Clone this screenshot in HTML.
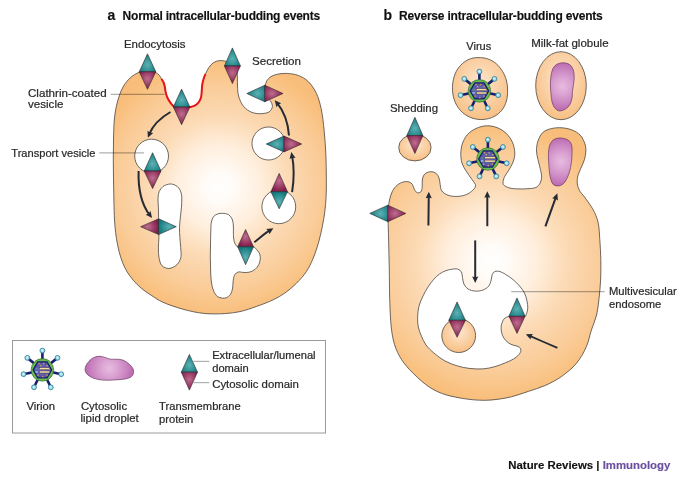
<!DOCTYPE html>
<html><head><meta charset="utf-8"><style>
html,body{margin:0;padding:0;background:#fff;}
svg{display:block;font-family:"Liberation Sans",sans-serif;}
</style></head><body>
<svg width="685" height="482" viewBox="0 0 685 482">

<defs>
 <radialGradient id="gA" cx="219" cy="187.5" r="130" gradientUnits="userSpaceOnUse">
  <stop offset="0" stop-color="#ffffff"/>
  <stop offset="0.1" stop-color="#fffcf9"/>
  <stop offset="0.2" stop-color="#fff6ec"/>
  <stop offset="0.33" stop-color="#ffeedc"/>
  <stop offset="0.52" stop-color="#fcdcb8"/>
  <stop offset="0.6" stop-color="#fbd6ae"/>
  <stop offset="0.8" stop-color="#facb96"/>
  <stop offset="0.96" stop-color="#f9c07e"/>
  <stop offset="1" stop-color="#f8bd7a"/>
 </radialGradient>
 <radialGradient id="gB" cx="492" cy="262" r="140" gradientUnits="userSpaceOnUse">
  <stop offset="0" stop-color="#ffffff"/>
  <stop offset="0.1" stop-color="#fffcf9"/>
  <stop offset="0.2" stop-color="#fff6ec"/>
  <stop offset="0.33" stop-color="#ffeedc"/>
  <stop offset="0.52" stop-color="#fcdcb8"/>
  <stop offset="0.6" stop-color="#fbd6ae"/>
  <stop offset="0.8" stop-color="#facb96"/>
  <stop offset="0.96" stop-color="#f9c07e"/>
  <stop offset="1" stop-color="#f8bd7a"/>
 </radialGradient>
 <radialGradient id="gS" cx="0.5" cy="0.4" r="0.6">
  <stop offset="0" stop-color="#fde6cf"/>
  <stop offset="1" stop-color="#f8c085"/>
 </radialGradient>
 <radialGradient id="gT" cx="0.5" cy="0.6" r="0.6">
  <stop offset="0" stop-color="#5cb1b4"/>
  <stop offset="1" stop-color="#12797d"/>
 </radialGradient>
 <radialGradient id="gM" cx="0.5" cy="0.4" r="0.6">
  <stop offset="0" stop-color="#bc6e8e"/>
  <stop offset="1" stop-color="#85194b"/>
 </radialGradient>
 <radialGradient id="gTh" cx="0.6" cy="0.5" r="0.6">
  <stop offset="0" stop-color="#5cb1b4"/>
  <stop offset="1" stop-color="#12797d"/>
 </radialGradient>
 <radialGradient id="gMh" cx="0.4" cy="0.5" r="0.6">
  <stop offset="0" stop-color="#bc6e8e"/>
  <stop offset="1" stop-color="#85194b"/>
 </radialGradient>
 <radialGradient id="gL1" cx="562.4" cy="86.3" r="27" gradientUnits="userSpaceOnUse">
  <stop offset="0" stop-color="#e7bce0"/>
  <stop offset="0.3" stop-color="#dba4d3"/>
  <stop offset="0.65" stop-color="#c983bf"/>
  <stop offset="1" stop-color="#b65ea9"/>
 </radialGradient>
 <radialGradient id="gL2" cx="561" cy="161.5" r="27" gradientUnits="userSpaceOnUse">
  <stop offset="0" stop-color="#e7bce0"/>
  <stop offset="0.3" stop-color="#dba4d3"/>
  <stop offset="0.65" stop-color="#c983bf"/>
  <stop offset="1" stop-color="#b65ea9"/>
 </radialGradient>
 <radialGradient id="gL3" cx="109.3" cy="368.4" r="27" gradientUnits="userSpaceOnUse">
  <stop offset="0" stop-color="#e7bce0"/>
  <stop offset="0.3" stop-color="#dba4d3"/>
  <stop offset="0.65" stop-color="#c983bf"/>
  <stop offset="1" stop-color="#b65ea9"/>
 </radialGradient>
 <radialGradient id="gBall" cx="0.45" cy="0.45" r="0.6">
  <stop offset="0" stop-color="#dcf6fb"/>
  <stop offset="1" stop-color="#74c6da"/>
 </radialGradient>
 <radialGradient id="gV" cx="0.5" cy="0.5" r="0.6">
  <stop offset="0" stop-color="#7070bc"/>
  <stop offset="1" stop-color="#4a4a9e"/>
 </radialGradient>
</defs>

<text x="107.5" y="19.7" font-size="14" font-weight="700" fill="#111" stroke="#111" stroke-width="0.15" text-anchor="start" letter-spacing="0">a</text>
<text x="122.6" y="19.6" font-size="12" font-weight="700" fill="#111" stroke="#111" stroke-width="0.15" text-anchor="start" letter-spacing="-0.23">Normal intracellular-budding events</text>
<text x="383.6" y="19.7" font-size="14" font-weight="700" fill="#111" stroke="#111" stroke-width="0.15" text-anchor="start" letter-spacing="0">b</text>
<text x="399.0" y="19.6" font-size="12" font-weight="700" fill="#111" stroke="#111" stroke-width="0.15" text-anchor="start" letter-spacing="-0.2">Reverse intracellular-budding events</text>
<path d="M147.50,70.60 C150.17,70.61 153.31,71.33 155.40,72.30 C157.03,73.06 158.26,74.15 159.30,75.30 C160.26,76.37 160.78,77.70 161.50,78.90 C162.21,80.10 163.05,81.21 163.60,82.50 C164.17,83.84 164.46,85.26 164.80,86.80 C165.18,88.53 165.24,90.55 165.70,92.40 C166.17,94.29 166.79,96.27 167.60,98.00 C168.37,99.65 169.36,101.18 170.40,102.60 C171.40,103.97 172.16,105.53 173.70,106.40 C175.64,107.50 178.92,107.69 181.60,107.80 C184.35,107.91 187.69,107.41 190.00,107.00 C191.65,106.71 192.87,106.56 194.20,105.90 C195.68,105.16 197.28,103.97 198.40,102.60 C199.56,101.19 200.45,99.32 201.00,97.50 C201.57,95.63 201.50,93.55 201.70,91.50 C201.91,89.35 201.88,87.00 202.20,84.90 C202.50,82.94 202.96,81.11 203.50,79.30 C204.03,77.54 204.61,75.98 205.40,74.20 C206.32,72.12 207.41,69.56 208.80,67.60 C210.13,65.71 211.67,63.77 213.50,62.60 C215.26,61.48 217.40,60.79 219.50,60.60 C221.72,60.40 224.22,60.90 226.50,61.60 C228.89,62.33 231.75,63.36 233.50,65.00 C235.15,66.55 236.25,68.84 236.90,71.00 C237.56,73.17 237.30,75.59 237.40,78.00 C237.51,80.58 237.33,83.19 237.50,86.00 C237.69,89.15 237.68,92.73 238.60,96.00 C239.58,99.47 241.12,103.44 243.40,106.20 C245.60,108.87 248.75,111.17 251.90,112.40 C255.02,113.62 259.08,113.84 262.20,113.60 C264.86,113.40 267.77,112.93 269.50,111.60 C271.01,110.44 272.23,108.37 272.40,106.60 C272.58,104.78 271.45,102.43 270.40,100.80 C269.41,99.26 267.34,98.45 266.40,97.00 C265.53,95.65 265.05,94.13 264.80,92.50 C264.52,90.67 264.67,88.45 265.00,86.50 C265.33,84.55 265.80,82.45 266.80,80.80 C267.80,79.15 269.31,77.68 271.00,76.60 C272.83,75.43 275.12,74.74 277.50,74.20 C280.22,73.59 283.29,73.26 286.50,73.40 C290.22,73.56 294.83,74.10 298.50,75.50 C302.08,76.87 305.44,78.87 308.30,81.60 C311.46,84.62 314.20,88.90 316.30,93.20 C318.54,97.77 319.84,102.83 321.10,108.40 C322.57,114.91 323.31,122.52 324.10,130.00 C324.94,138.02 325.54,147.13 325.90,155.00 C326.22,162.03 326.24,168.81 326.30,175.00 C326.35,180.36 326.42,185.04 326.30,190.00 C326.18,194.88 326.03,199.67 325.60,204.50 C325.17,209.37 324.50,214.26 323.70,219.10 C322.90,223.96 321.93,228.79 320.80,233.60 C319.66,238.45 318.36,243.56 316.90,248.10 C315.57,252.24 314.22,255.94 312.50,259.80 C310.73,263.78 308.94,267.82 306.40,271.60 C303.68,275.65 300.09,279.62 296.50,283.20 C292.90,286.79 288.82,290.27 284.80,293.10 C281.04,295.74 277.50,297.72 273.20,299.80 C268.24,302.20 262.17,304.42 256.60,306.40 C251.10,308.35 245.49,310.40 240.00,311.60 C234.80,312.74 230.06,313.27 224.50,313.60 C218.09,313.98 210.59,314.13 203.70,313.40 C196.76,312.67 189.84,311.09 183.00,309.20 C176.01,307.27 167.82,304.54 162.20,301.90 C158.05,299.95 155.30,297.91 151.90,295.70 C148.40,293.42 144.67,291.05 141.50,288.40 C138.46,285.86 135.75,283.22 133.20,280.20 C130.53,277.05 127.96,273.55 125.90,269.80 C123.77,265.93 122.09,261.51 120.70,257.30 C119.35,253.21 118.45,249.06 117.60,244.90 C116.75,240.76 116.12,236.57 115.60,232.40 C115.09,228.27 114.77,224.63 114.50,220.00 C114.15,214.13 114.07,206.67 113.90,200.00 C113.73,193.33 113.60,186.67 113.50,180.00 C113.40,173.33 113.30,166.67 113.30,160.00 C113.30,153.33 113.33,146.67 113.50,140.00 C113.67,133.33 113.74,126.00 114.30,120.00 C114.76,115.05 115.37,110.84 116.30,106.50 C117.19,102.35 118.37,98.11 119.70,94.50 C120.85,91.37 121.90,88.72 123.60,86.00 C125.43,83.07 127.85,79.90 130.50,77.60 C133.07,75.37 136.23,73.47 139.20,72.30 C141.91,71.24 144.77,70.59 147.50,70.60 Z" fill="url(#gA)" stroke="#4a4540" stroke-width="0.8"/>
<path d="M161.50,78.90 C162.21,80.10 163.05,81.21 163.60,82.50 C164.17,83.84 164.46,85.26 164.80,86.80 C165.18,88.53 165.24,90.55 165.70,92.40 C166.17,94.29 166.79,96.27 167.60,98.00 C168.37,99.65 169.36,101.18 170.40,102.60 C171.40,103.97 172.16,105.53 173.70,106.40 C175.64,107.50 178.92,107.69 181.60,107.80 C184.35,107.91 187.69,107.41 190.00,107.00 C191.65,106.71 192.87,106.56 194.20,105.90 C195.68,105.16 197.28,103.97 198.40,102.60 C199.56,101.19 200.45,99.32 201.00,97.50 C201.57,95.63 201.50,93.55 201.70,91.50 C201.91,89.35 201.88,87.00 202.20,84.90 C202.50,82.94 202.96,81.11 203.50,79.30 C204.03,77.54 204.61,75.98 205.40,74.20 " fill="none" stroke="#e8141a" stroke-width="2"/>
<circle cx="151.6" cy="156.1" r="16.9" fill="#fff" stroke="#4a4540" stroke-width="0.8"/>
<circle cx="268.5" cy="143.5" r="16.5" fill="#fff" stroke="#4a4540" stroke-width="0.8"/>
<circle cx="278.8" cy="206.8" r="16.9" fill="#fff" stroke="#4a4540" stroke-width="0.8"/>
<path d="M169.90,184.00 C171.76,183.88 173.67,184.45 175.20,185.20 C176.64,185.90 177.91,186.95 178.90,188.20 C179.94,189.52 180.71,191.26 181.20,193.00 C181.72,194.85 181.74,196.80 181.80,199.00 C181.87,201.67 181.64,204.86 181.40,207.90 C181.15,211.12 180.62,214.49 180.30,217.80 C179.98,221.12 179.57,224.47 179.50,227.80 C179.43,231.11 179.70,234.39 179.90,237.70 C180.10,241.03 180.55,244.37 180.70,247.70 C180.85,251.01 181.53,254.67 180.80,257.60 C180.15,260.23 178.88,262.80 177.00,264.60 C175.00,266.51 171.52,268.43 168.90,268.50 C166.50,268.57 163.54,267.32 161.90,265.60 C160.16,263.78 159.59,260.45 159.00,257.60 C158.36,254.52 158.42,251.01 158.40,247.70 C158.38,244.38 158.85,241.11 158.90,237.70 C158.96,234.12 158.75,230.17 158.70,226.70 C158.65,223.58 158.65,220.85 158.60,217.80 C158.55,214.59 158.50,211.20 158.40,207.90 C158.30,204.60 157.79,200.94 158.00,198.00 C158.17,195.60 158.34,193.44 159.20,191.50 C160.03,189.61 161.32,187.74 163.00,186.50 C164.82,185.16 167.73,184.14 169.90,184.00 Z" fill="#fff" stroke="#4a4540" stroke-width="0.8"/>
<path d="M222.60,213.30 C224.49,213.39 226.90,213.71 228.50,214.70 C230.04,215.65 231.28,217.27 232.10,219.00 C233.02,220.95 233.17,223.54 233.40,226.00 C233.65,228.69 233.25,231.81 233.40,234.50 C233.54,236.95 233.47,239.40 234.20,241.50 C234.89,243.48 235.81,245.85 237.50,246.80 C239.43,247.89 242.93,246.90 245.60,246.90 C248.20,246.90 251.27,246.06 253.30,246.80 C254.96,247.41 256.11,248.93 257.20,250.20 C258.26,251.43 259.29,252.84 259.80,254.30 C260.30,255.71 260.41,257.22 260.30,258.80 C260.17,260.62 259.67,262.84 258.80,264.60 C257.92,266.38 256.57,268.14 255.00,269.40 C253.39,270.69 251.22,271.70 249.20,272.20 C247.22,272.69 244.93,272.45 243.00,272.40 C241.30,272.36 239.60,271.59 238.20,272.00 C236.88,272.39 235.62,273.38 234.80,274.60 C233.82,276.06 233.57,278.40 233.20,280.50 C232.79,282.83 233.07,285.64 232.60,288.00 C232.16,290.19 231.70,292.56 230.60,294.20 C229.61,295.67 228.03,296.97 226.60,297.60 C225.34,298.15 223.99,298.22 222.60,298.10 C221.01,297.97 219.03,297.62 217.60,296.60 C215.96,295.42 214.61,293.20 213.60,291.00 C212.43,288.45 211.90,285.24 211.40,282.00 C210.83,278.31 210.78,274.08 210.60,270.00 C210.41,265.76 210.31,261.25 210.30,257.00 C210.29,252.92 210.42,249.08 210.50,245.00 C210.58,240.75 210.63,236.05 210.80,232.00 C210.95,228.45 210.77,224.80 211.40,222.00 C211.88,219.85 212.46,217.86 213.60,216.50 C214.61,215.29 216.13,214.53 217.60,214.00 C219.12,213.45 220.87,213.22 222.60,213.30 Z" fill="#fff" stroke="#4a4540" stroke-width="0.8"/>
<path d="M170.50,112.00 C161.11,117.36 152.93,125.12 149.08,134.43" fill="none" stroke="#262b33" stroke-width="2.0"/><path d="M147.90,137.80 L147.49,130.63 L150.03,132.49 L153.15,132.90 Z" fill="#262b33"/>
<path d="M138.60,171.00 C138.05,188.49 141.39,204.28 149.80,215.26" fill="none" stroke="#262b33" stroke-width="2.0"/><path d="M152.10,218.00 L145.70,214.75 L148.58,213.49 L150.51,211.00 Z" fill="#262b33"/>
<path d="M254.30,242.30 C259.18,238.62 264.28,233.69 270.29,229.96" fill="none" stroke="#262b33" stroke-width="2.0"/><path d="M273.40,228.20 L269.43,234.18 L268.51,231.17 L266.26,228.97 Z" fill="#262b33"/>
<path d="M292.10,192.20 C293.83,181.09 294.40,167.65 292.07,155.59" fill="none" stroke="#262b33" stroke-width="2.0"/><path d="M291.30,152.10 L295.56,157.88 L292.42,157.71 L289.58,159.07 Z" fill="#262b33"/>
<path d="M289.00,135.50 C288.09,123.21 284.69,112.16 277.07,102.88" fill="none" stroke="#262b33" stroke-width="2.0"/><path d="M274.70,100.20 L281.20,103.24 L278.36,104.60 L276.51,107.15 Z" fill="#262b33"/>
<path d="M139.2,71.8 L147.5,53.8 L155.8,71.8 Z" fill="url(#gT)" stroke="#2a2a2a" stroke-width="0.6" stroke-linejoin="round"/><path d="M139.2,71.8 L147.5,89.3 L155.8,71.8 Z" fill="url(#gM)" stroke="#2a2a2a" stroke-width="0.6" stroke-linejoin="round"/>
<path d="M173.3,107.0 L181.6,89.1 L189.9,107.0 Z" fill="url(#gT)" stroke="#2a2a2a" stroke-width="0.6" stroke-linejoin="round"/><path d="M173.3,107.0 L181.6,124.7 L189.9,107.0 Z" fill="url(#gM)" stroke="#2a2a2a" stroke-width="0.6" stroke-linejoin="round"/>
<path d="M224.4,65.9 L232.4,47.9 L240.4,65.9 Z" fill="url(#gT)" stroke="#2a2a2a" stroke-width="0.6" stroke-linejoin="round"/><path d="M224.4,65.9 L232.4,83.6 L240.4,65.9 Z" fill="url(#gM)" stroke="#2a2a2a" stroke-width="0.6" stroke-linejoin="round"/>
<path d="M264.8,85.2 L246.8,93.5 L264.8,101.8 Z" fill="url(#gTh)" stroke="#2a2a2a" stroke-width="0.6" stroke-linejoin="round"/><path d="M264.8,85.2 L283.0,93.5 L264.8,101.8 Z" fill="url(#gMh)" stroke="#2a2a2a" stroke-width="0.6" stroke-linejoin="round"/>
<path d="M284.0,136.1 L266.2,144.0 L284.0,151.9 Z" fill="url(#gTh)" stroke="#2a2a2a" stroke-width="0.6" stroke-linejoin="round"/><path d="M284.0,136.1 L301.7,144.0 L284.0,151.9 Z" fill="url(#gMh)" stroke="#2a2a2a" stroke-width="0.6" stroke-linejoin="round"/>
<path d="M270.9,191.7 L279.2,173.4 L287.5,191.7 Z" fill="url(#gM)" stroke="#2a2a2a" stroke-width="0.6" stroke-linejoin="round"/><path d="M270.9,191.7 L279.2,208.8 L287.5,191.7 Z" fill="url(#gT)" stroke="#2a2a2a" stroke-width="0.6" stroke-linejoin="round"/>
<path d="M144.2,171.0 L152.6,152.7 L161.0,171.0 Z" fill="url(#gT)" stroke="#2a2a2a" stroke-width="0.6" stroke-linejoin="round"/><path d="M144.2,171.0 L152.6,188.6 L161.0,171.0 Z" fill="url(#gM)" stroke="#2a2a2a" stroke-width="0.6" stroke-linejoin="round"/>
<path d="M158.6,218.8 L140.6,226.7 L158.6,234.6 Z" fill="url(#gMh)" stroke="#2a2a2a" stroke-width="0.6" stroke-linejoin="round"/><path d="M158.6,218.8 L176.3,226.7 L158.6,234.6 Z" fill="url(#gTh)" stroke="#2a2a2a" stroke-width="0.6" stroke-linejoin="round"/>
<path d="M237.7,246.8 L245.6,229.5 L253.5,246.8 Z" fill="url(#gM)" stroke="#2a2a2a" stroke-width="0.6" stroke-linejoin="round"/><path d="M237.7,246.8 L245.6,264.7 L253.5,246.8 Z" fill="url(#gT)" stroke="#2a2a2a" stroke-width="0.6" stroke-linejoin="round"/>
<text x="123.9" y="47.8" font-size="11.45" font-weight="400" fill="#2a2a2a" stroke="#2a2a2a" stroke-width="0.22" text-anchor="start" letter-spacing="0">Endocytosis</text>
<text x="252.0" y="64.9" font-size="11.6" font-weight="400" fill="#2a2a2a" stroke="#2a2a2a" stroke-width="0.22" text-anchor="start" letter-spacing="0">Secretion</text>
<text x="28.0" y="96.8" font-size="11.6" font-weight="400" fill="#2a2a2a" stroke="#2a2a2a" stroke-width="0.22" text-anchor="start" letter-spacing="0">Clathrin-coated</text>
<text x="28.0" y="108.4" font-size="11.6" font-weight="400" fill="#2a2a2a" stroke="#2a2a2a" stroke-width="0.22" text-anchor="start" letter-spacing="0">vesicle</text>
<line x1="110.8" y1="94.3" x2="164.5" y2="94.3" stroke="#b0b0b0" stroke-width="1.2" style="mix-blend-mode:multiply"/>
<text x="11.3" y="156.5" font-size="11.1" font-weight="400" fill="#2a2a2a" stroke="#2a2a2a" stroke-width="0.22" text-anchor="start" letter-spacing="0">Transport vesicle</text>
<line x1="99.3" y1="152.8" x2="143.9" y2="152.8" stroke="#b0b0b0" stroke-width="1.2" style="mix-blend-mode:multiply"/>
<path d="M388.20,213.00 C388.38,208.19 388.54,204.75 389.30,201.00 C390.00,197.55 390.92,194.07 392.40,191.30 C393.71,188.84 395.43,186.59 397.40,185.00 C399.24,183.52 401.62,182.37 403.70,181.90 C405.55,181.49 407.69,181.46 409.20,182.00 C410.50,182.46 411.57,183.40 412.40,184.50 C413.33,185.73 413.46,187.80 414.30,189.20 C415.11,190.55 416.13,192.44 417.30,192.80 C418.33,193.12 419.99,192.59 420.80,191.80 C421.72,190.91 421.93,189.08 422.20,187.40 C422.54,185.27 421.90,182.24 422.30,180.00 C422.65,178.03 423.10,175.95 424.20,174.60 C425.23,173.34 427.00,172.44 428.50,172.00 C429.91,171.59 431.53,171.59 432.90,171.90 C434.23,172.21 435.60,172.85 436.60,173.80 C437.68,174.83 438.41,176.38 439.00,178.00 C439.69,179.90 439.81,182.52 440.20,184.60 C440.55,186.46 440.43,188.39 441.20,189.90 C441.95,191.37 443.16,192.61 444.70,193.60 C446.62,194.84 449.41,195.81 452.20,196.20 C455.50,196.66 459.97,196.49 463.30,195.60 C466.31,194.80 469.29,193.28 471.40,191.50 C473.26,189.93 475.48,187.79 475.60,185.80 C475.72,183.79 473.38,181.67 472.00,179.50 C470.43,177.03 468.25,174.51 466.60,171.80 C464.91,169.02 462.97,166.10 462.00,163.00 C461.04,159.90 460.71,156.49 460.80,153.20 C460.89,149.83 461.45,146.15 462.60,143.00 C463.72,139.93 465.32,136.89 467.50,134.50 C469.75,132.03 472.87,129.95 476.00,128.50 C479.19,127.02 482.98,125.94 486.50,125.80 C489.98,125.66 493.75,126.36 497.00,127.60 C500.25,128.83 503.45,130.80 506.00,133.20 C508.60,135.65 510.93,138.89 512.40,142.20 C513.88,145.55 514.77,149.71 514.80,153.20 C514.83,156.35 514.00,159.39 513.00,162.20 C512.04,164.91 510.46,167.20 509.00,169.80 C507.41,172.62 504.65,175.77 503.80,178.50 C503.14,180.60 502.59,182.96 503.40,184.50 C504.24,186.10 506.82,187.06 509.00,187.80 C511.57,188.67 514.92,188.74 518.00,188.90 C521.24,189.06 524.86,188.98 528.00,188.70 C530.82,188.44 533.90,188.51 536.00,187.40 C537.82,186.44 539.27,184.71 540.20,183.00 C541.12,181.31 541.52,179.34 541.60,177.20 C541.70,174.58 540.80,171.31 540.20,168.40 C539.60,165.48 538.62,162.61 538.00,159.70 C537.39,156.81 536.54,154.01 536.50,151.00 C536.46,147.76 536.89,144.04 538.00,140.90 C539.10,137.78 540.74,134.27 543.10,132.20 C545.38,130.19 548.73,129.24 551.80,128.50 C554.98,127.74 558.54,127.56 561.90,127.80 C565.31,128.04 569.01,128.73 572.10,130.00 C575.05,131.21 577.98,132.84 580.10,135.10 C582.27,137.41 583.95,140.95 584.90,143.80 C585.71,146.24 585.94,148.49 585.90,151.00 C585.85,153.77 585.23,156.85 584.40,159.70 C583.55,162.65 581.93,165.62 580.80,168.40 C579.77,170.94 578.50,173.22 577.90,175.70 C577.32,178.09 576.97,180.60 577.20,183.00 C577.43,185.43 578.15,187.93 579.30,190.20 C580.52,192.62 582.60,194.36 584.50,197.00 C587.03,200.51 590.71,205.22 593.00,209.50 C595.15,213.53 596.87,217.30 598.00,221.90 C599.31,227.22 599.34,233.61 599.80,239.70 C600.29,246.09 600.66,252.76 600.80,259.40 C600.94,266.19 600.92,273.31 600.60,280.00 C600.30,286.39 599.70,292.69 599.00,298.70 C598.35,304.33 597.89,309.74 596.60,315.00 C595.34,320.17 593.07,324.86 591.40,330.00 C589.66,335.38 588.78,341.21 586.40,346.60 C583.89,352.29 580.60,358.25 576.50,363.20 C572.33,368.24 566.85,372.73 561.50,376.50 C556.30,380.16 550.54,383.09 544.90,385.60 C539.47,388.02 533.87,389.54 528.30,391.40 C522.70,393.27 516.85,395.44 511.40,396.80 C506.45,398.03 501.59,398.81 497.00,399.40 C492.86,399.93 489.05,400.24 485.10,400.30 C481.19,400.36 477.29,400.13 473.40,399.80 C469.49,399.47 465.59,398.95 461.70,398.30 C457.79,397.65 453.48,396.77 450.00,395.90 C447.15,395.18 444.88,394.56 442.30,393.60 C439.55,392.58 436.71,391.37 434.00,389.90 C431.17,388.36 428.40,386.52 425.70,384.50 C422.86,382.38 420.12,379.92 417.40,377.40 C414.58,374.79 411.51,371.73 409.10,369.10 C407.08,366.90 405.41,364.96 403.80,362.80 C402.25,360.72 400.89,358.71 399.60,356.40 C398.21,353.90 396.85,351.06 395.80,348.30 C394.76,345.59 394.01,343.05 393.30,340.00 C392.46,336.39 391.80,332.30 391.30,328.00 C390.72,323.06 390.48,317.42 390.20,312.00 C389.91,306.42 389.75,301.21 389.60,295.00 C389.42,287.47 389.45,278.71 389.30,270.00 C389.13,260.46 388.79,249.74 388.60,240.00 C388.42,230.76 387.92,220.19 388.20,213.00 Z" fill="url(#gB)" stroke="#4a4540" stroke-width="0.8"/>
<path d="M445.80,270.70 C447.70,269.98 449.55,269.57 451.50,269.30 C453.51,269.02 455.99,268.54 457.70,269.10 C459.16,269.58 460.50,270.62 461.30,271.90 C462.20,273.33 462.08,275.56 462.50,277.50 C462.95,279.59 462.97,282.07 463.90,284.00 C464.82,285.90 466.19,287.82 468.00,289.00 C470.00,290.30 473.07,290.95 475.60,291.10 C478.07,291.25 480.78,290.86 483.00,290.00 C485.13,289.18 487.33,287.88 488.70,286.20 C490.05,284.54 490.59,282.05 491.20,280.00 C491.76,278.09 491.55,275.79 492.30,274.30 C492.91,273.09 493.75,271.99 494.90,271.50 C496.23,270.94 498.32,271.19 500.00,271.60 C501.83,272.05 503.49,273.17 505.40,274.30 C507.76,275.69 510.63,277.53 513.00,279.50 C515.40,281.49 517.74,283.87 519.70,286.20 C521.54,288.38 523.30,290.57 524.50,293.00 C525.68,295.38 526.35,298.06 526.90,300.60 C527.43,303.06 527.91,305.72 527.80,308.00 C527.71,309.98 527.18,311.98 526.60,313.50 C526.14,314.69 525.94,315.87 524.90,316.50 C523.32,317.46 519.57,316.80 516.90,316.80 C514.23,316.80 511.14,316.07 508.90,316.50 C507.14,316.84 505.57,317.40 504.40,318.50 C503.15,319.67 502.35,321.76 501.80,323.50 C501.27,325.20 501.04,326.96 501.10,328.80 C501.17,330.84 501.61,333.24 502.40,335.20 C503.17,337.10 504.30,338.89 505.70,340.40 C507.15,341.97 509.15,343.48 511.00,344.40 C512.67,345.23 514.68,345.36 516.20,345.90 C517.44,346.34 518.71,346.54 519.50,347.30 C520.26,348.03 520.89,349.21 520.90,350.30 C520.91,351.58 520.01,353.19 519.00,354.50 C517.75,356.13 515.60,357.67 513.50,359.00 C511.14,360.49 508.30,361.59 505.40,362.80 C502.18,364.14 498.55,365.60 495.00,366.60 C491.42,367.61 487.91,368.46 484.00,368.80 C479.63,369.19 474.49,369.00 470.00,368.50 C465.75,368.03 461.78,367.21 457.70,366.00 C453.45,364.74 448.96,363.16 445.00,361.00 C441.03,358.83 437.18,355.81 433.90,353.00 C430.92,350.45 428.10,347.89 426.00,345.00 C424.04,342.30 422.78,339.30 421.50,336.30 C420.21,333.30 418.95,330.18 418.30,327.00 C417.65,323.84 417.51,320.65 417.60,317.30 C417.69,313.67 418.07,309.61 419.00,306.00 C419.92,302.45 421.56,299.03 423.10,295.80 C424.57,292.71 426.19,289.80 428.00,287.00 C429.79,284.23 431.85,281.36 433.90,279.10 C435.70,277.12 437.48,275.41 439.50,274.00 C441.46,272.63 443.70,271.49 445.80,270.70 Z" fill="#fff" stroke="#4a4540" stroke-width="0.8"/>
<circle cx="458.7" cy="335.6" r="16.9" fill="url(#gS)" stroke="#4a4540" stroke-width="0.8"/>
<ellipse cx="414.9" cy="147.6" rx="16.2" ry="13.3" fill="url(#gS)" stroke="#4a4540" stroke-width="0.8"/>
<path d="M478.00,57.60 C481.05,57.53 484.51,57.82 487.50,58.80 C490.51,59.78 493.51,61.43 496.00,63.50 C498.57,65.63 500.83,68.58 502.60,71.50 C504.36,74.41 505.77,77.73 506.60,81.00 C507.42,84.23 507.63,87.67 507.60,91.00 C507.57,94.34 507.34,97.83 506.40,101.00 C505.47,104.16 504.04,107.42 502.00,110.00 C499.93,112.63 497.07,115.02 494.00,116.60 C490.78,118.25 486.69,119.27 483.00,119.50 C479.36,119.72 475.42,119.17 472.00,118.00 C468.59,116.83 465.18,114.85 462.50,112.50 C459.86,110.18 457.61,107.14 456.00,104.00 C454.37,100.82 453.32,97.12 452.80,93.50 C452.26,89.79 452.32,85.70 452.90,82.00 C453.47,78.38 454.55,74.63 456.20,71.50 C457.79,68.49 460.11,65.63 462.50,63.50 C464.69,61.55 467.19,59.98 469.80,59.00 C472.37,58.03 475.16,57.66 478.00,57.60 Z" fill="url(#gS)" stroke="#4a4540" stroke-width="0.8"/>
<ellipse cx="561" cy="85.7" rx="25.3" ry="34" fill="url(#gS)" stroke="#4a4540" stroke-width="0.8"/>
<path d="M563.00,62.80 C565.22,62.80 567.97,63.36 569.70,64.60 C571.37,65.80 572.54,67.89 573.30,70.00 C574.17,72.40 574.22,75.70 574.20,78.40 C574.18,80.92 573.62,83.39 573.30,85.70 C573.01,87.80 572.60,89.70 572.40,91.70 C572.20,93.70 572.49,95.64 572.10,97.70 C571.66,100.02 570.93,102.94 569.70,104.90 C568.61,106.65 567.09,108.10 565.40,109.10 C563.67,110.12 561.18,111.10 559.40,110.90 C557.83,110.72 556.35,109.71 555.20,108.50 C553.85,107.07 552.90,104.73 552.20,102.50 C551.42,99.99 551.30,97.00 551.00,94.10 C550.68,91.01 550.39,87.60 550.40,84.50 C550.41,81.58 550.57,78.70 551.00,76.00 C551.40,73.48 551.78,70.78 552.80,68.80 C553.68,67.09 554.83,65.59 556.40,64.60 C558.14,63.50 560.79,62.80 563.00,62.80 Z" fill="url(#gL1)" stroke="#6a3a62" stroke-width="0.7"/>
<path d="M559.00,138.00 C560.79,137.83 562.78,138.10 564.50,138.60 C566.17,139.08 568.01,139.79 569.20,140.90 C570.34,141.96 571.11,143.44 571.60,145.00 C572.16,146.76 572.05,149.00 572.10,151.00 C572.15,153.00 572.02,155.04 571.90,157.00 C571.78,158.90 571.72,160.47 571.40,162.60 C570.96,165.51 570.37,169.47 569.20,172.80 C567.98,176.28 566.19,180.80 564.10,183.00 C562.60,184.58 560.81,185.66 559.00,185.90 C557.17,186.14 554.63,185.65 553.20,184.40 C551.58,182.97 551.00,179.94 550.30,177.20 C549.43,173.82 549.19,169.62 548.90,165.50 C548.58,160.93 548.18,154.97 548.60,151.00 C548.90,148.16 549.31,145.79 550.30,143.80 C551.15,142.09 552.35,140.57 553.80,139.60 C555.25,138.64 557.22,138.17 559.00,138.00 Z" fill="url(#gL2)" stroke="#6a3a62" stroke-width="0.7"/>
<g transform="translate(479.4,90.9) scale(1.0)"><line x1="0" y1="0" x2="0.00" y2="-19.30" stroke="#17206e" stroke-width="2.6"/><line x1="0" y1="0" x2="15.09" y2="-12.03" stroke="#17206e" stroke-width="2.6"/><line x1="0" y1="0" x2="18.82" y2="4.29" stroke="#17206e" stroke-width="2.6"/><line x1="0" y1="0" x2="8.37" y2="17.39" stroke="#17206e" stroke-width="2.6"/><line x1="0" y1="0" x2="-8.37" y2="17.39" stroke="#17206e" stroke-width="2.6"/><line x1="0" y1="0" x2="-18.82" y2="4.29" stroke="#17206e" stroke-width="2.6"/><line x1="0" y1="0" x2="-15.09" y2="-12.03" stroke="#17206e" stroke-width="2.6"/><circle cx="0.00" cy="-19.30" r="2.45" fill="url(#gBall)" stroke="#2b7f96" stroke-width="0.8"/><circle cx="15.09" cy="-12.03" r="2.45" fill="url(#gBall)" stroke="#2b7f96" stroke-width="0.8"/><circle cx="18.82" cy="4.29" r="2.45" fill="url(#gBall)" stroke="#2b7f96" stroke-width="0.8"/><circle cx="8.37" cy="17.39" r="2.45" fill="url(#gBall)" stroke="#2b7f96" stroke-width="0.8"/><circle cx="-8.37" cy="17.39" r="2.45" fill="url(#gBall)" stroke="#2b7f96" stroke-width="0.8"/><circle cx="-18.82" cy="4.29" r="2.45" fill="url(#gBall)" stroke="#2b7f96" stroke-width="0.8"/><circle cx="-15.09" cy="-12.03" r="2.45" fill="url(#gBall)" stroke="#2b7f96" stroke-width="0.8"/><circle r="11.3" fill="#66bb4e" stroke="#2d4a2a" stroke-width="0.5"/><polygon points="9.30,0.00 4.65,8.05 -4.65,8.05 -9.30,0.00 -4.65,-8.05 4.65,-8.05" fill="url(#gV)" stroke="#1a1f6a" stroke-width="1.2" stroke-linejoin="round"/><circle cx="-3.4" cy="-6.3" r="0.85" fill="#c8985a"/><circle cx="1.3" cy="-6.3" r="0.85" fill="#c8985a"/><circle cx="-1.7" cy="-4.4" r="0.85" fill="#c8985a"/><circle cx="4.7" cy="-4.3" r="0.85" fill="#c8985a"/><circle cx="-4.4" cy="5.2" r="0.85" fill="#c8985a"/><circle cx="0.4" cy="6.6" r="0.85" fill="#c8985a"/><circle cx="4.5" cy="5.2" r="0.85" fill="#c8985a"/><rect x="-3.1" y="-2.2" width="10.4" height="2.0" fill="#f6dfa2" stroke="#3a3050" stroke-width="0.45"/><rect x="-3.1" y="1.1" width="10.4" height="2.0" fill="#f6dfa2" stroke="#3a3050" stroke-width="0.45"/><rect x="-7.1" y="-1.6" width="2.6" height="1.1" fill="#5a9a9a"/><rect x="-7.1" y="1.5" width="2.6" height="1.1" fill="#b0eaf0"/></g>
<g transform="translate(487.9,159.0) scale(1.0)"><line x1="0" y1="0" x2="0.00" y2="-19.30" stroke="#17206e" stroke-width="2.6"/><line x1="0" y1="0" x2="15.09" y2="-12.03" stroke="#17206e" stroke-width="2.6"/><line x1="0" y1="0" x2="18.82" y2="4.29" stroke="#17206e" stroke-width="2.6"/><line x1="0" y1="0" x2="8.37" y2="17.39" stroke="#17206e" stroke-width="2.6"/><line x1="0" y1="0" x2="-8.37" y2="17.39" stroke="#17206e" stroke-width="2.6"/><line x1="0" y1="0" x2="-18.82" y2="4.29" stroke="#17206e" stroke-width="2.6"/><line x1="0" y1="0" x2="-15.09" y2="-12.03" stroke="#17206e" stroke-width="2.6"/><circle cx="0.00" cy="-19.30" r="2.45" fill="url(#gBall)" stroke="#2b7f96" stroke-width="0.8"/><circle cx="15.09" cy="-12.03" r="2.45" fill="url(#gBall)" stroke="#2b7f96" stroke-width="0.8"/><circle cx="18.82" cy="4.29" r="2.45" fill="url(#gBall)" stroke="#2b7f96" stroke-width="0.8"/><circle cx="8.37" cy="17.39" r="2.45" fill="url(#gBall)" stroke="#2b7f96" stroke-width="0.8"/><circle cx="-8.37" cy="17.39" r="2.45" fill="url(#gBall)" stroke="#2b7f96" stroke-width="0.8"/><circle cx="-18.82" cy="4.29" r="2.45" fill="url(#gBall)" stroke="#2b7f96" stroke-width="0.8"/><circle cx="-15.09" cy="-12.03" r="2.45" fill="url(#gBall)" stroke="#2b7f96" stroke-width="0.8"/><circle r="11.3" fill="#66bb4e" stroke="#2d4a2a" stroke-width="0.5"/><polygon points="9.30,0.00 4.65,8.05 -4.65,8.05 -9.30,0.00 -4.65,-8.05 4.65,-8.05" fill="url(#gV)" stroke="#1a1f6a" stroke-width="1.2" stroke-linejoin="round"/><circle cx="-3.4" cy="-6.3" r="0.85" fill="#c8985a"/><circle cx="1.3" cy="-6.3" r="0.85" fill="#c8985a"/><circle cx="-1.7" cy="-4.4" r="0.85" fill="#c8985a"/><circle cx="4.7" cy="-4.3" r="0.85" fill="#c8985a"/><circle cx="-4.4" cy="5.2" r="0.85" fill="#c8985a"/><circle cx="0.4" cy="6.6" r="0.85" fill="#c8985a"/><circle cx="4.5" cy="5.2" r="0.85" fill="#c8985a"/><rect x="-3.1" y="-2.2" width="10.4" height="2.0" fill="#f6dfa2" stroke="#3a3050" stroke-width="0.45"/><rect x="-3.1" y="1.1" width="10.4" height="2.0" fill="#f6dfa2" stroke="#3a3050" stroke-width="0.45"/><rect x="-7.1" y="-1.6" width="2.6" height="1.1" fill="#5a9a9a"/><rect x="-7.1" y="1.5" width="2.6" height="1.1" fill="#b0eaf0"/></g>
<path d="M428.40,225.60 C428.52,215.49 428.64,205.38 428.76,195.27" fill="none" stroke="#262b33" stroke-width="2.0"/><path d="M428.80,191.70 L431.77,198.24 L428.73,197.42 L425.67,198.16 Z" fill="#262b33"/>
<path d="M487.30,226.20 C487.30,215.76 487.30,205.32 487.30,194.88" fill="none" stroke="#262b33" stroke-width="2.0"/><path d="M487.30,191.30 L490.35,197.80 L487.30,197.02 L484.25,197.80 Z" fill="#262b33"/>
<path d="M545.40,226.40 C548.96,216.49 552.53,206.58 556.09,196.66" fill="none" stroke="#262b33" stroke-width="2.0"/><path d="M557.30,193.30 L557.97,200.45 L555.36,198.68 L552.23,198.38 Z" fill="#262b33"/>
<path d="M475.20,240.40 C475.20,253.37 475.20,266.35 475.20,279.32" fill="none" stroke="#262b33" stroke-width="2.0"/><path d="M475.20,282.90 L472.15,276.40 L475.20,277.18 L478.25,276.40 Z" fill="#262b33"/>
<path d="M557.40,347.90 C547.96,343.81 538.52,339.71 529.08,335.62" fill="none" stroke="#262b33" stroke-width="1.8"/><path d="M525.80,334.20 L532.98,333.99 L531.05,336.48 L530.55,339.58 Z" fill="#262b33"/>
<path d="M406.8,135.6 L414.9,117.3 L422.9,135.6 Z" fill="url(#gT)" stroke="#2a2a2a" stroke-width="0.6" stroke-linejoin="round"/><path d="M406.8,135.6 L414.9,153.5 L422.9,135.6 Z" fill="url(#gM)" stroke="#2a2a2a" stroke-width="0.6" stroke-linejoin="round"/>
<path d="M387.8,205.2 L369.8,213.4 L387.8,221.7 Z" fill="url(#gTh)" stroke="#2a2a2a" stroke-width="0.6" stroke-linejoin="round"/><path d="M387.8,205.2 L405.8,213.4 L387.8,221.7 Z" fill="url(#gMh)" stroke="#2a2a2a" stroke-width="0.6" stroke-linejoin="round"/>
<path d="M448.8,320.3 L457.1,301.9 L465.4,320.3 Z" fill="url(#gT)" stroke="#2a2a2a" stroke-width="0.6" stroke-linejoin="round"/><path d="M448.8,320.3 L457.1,337.3 L465.4,320.3 Z" fill="url(#gM)" stroke="#2a2a2a" stroke-width="0.6" stroke-linejoin="round"/>
<path d="M508.9,316.3 L517.0,297.9 L525.1,316.3 Z" fill="url(#gT)" stroke="#2a2a2a" stroke-width="0.6" stroke-linejoin="round"/><path d="M508.9,316.3 L517.0,333.4 L525.1,316.3 Z" fill="url(#gM)" stroke="#2a2a2a" stroke-width="0.6" stroke-linejoin="round"/>
<text x="466.3" y="49.5" font-size="11.0" font-weight="400" fill="#2a2a2a" stroke="#2a2a2a" stroke-width="0.22" text-anchor="start" letter-spacing="0">Virus</text>
<text x="531.2" y="46.9" font-size="11.5" font-weight="400" fill="#2a2a2a" stroke="#2a2a2a" stroke-width="0.22" text-anchor="start" letter-spacing="0">Milk-fat globule</text>
<text x="389.9" y="112.4" font-size="11.4" font-weight="400" fill="#2a2a2a" stroke="#2a2a2a" stroke-width="0.22" text-anchor="start" letter-spacing="0">Shedding</text>
<text x="609.0" y="294.8" font-size="11.2" font-weight="400" fill="#2a2a2a" stroke="#2a2a2a" stroke-width="0.22" text-anchor="start" letter-spacing="0">Multivesicular</text>
<text x="609.0" y="307.6" font-size="11.2" font-weight="400" fill="#2a2a2a" stroke="#2a2a2a" stroke-width="0.22" text-anchor="start" letter-spacing="0">endosome</text>
<line x1="511.2" y1="291.6" x2="604.8" y2="291.6" stroke="#b0b0b0" stroke-width="1.2" style="mix-blend-mode:multiply"/>
<rect x="12.5" y="340.5" width="313" height="92.5" fill="none" stroke="#9a9a9a" stroke-width="1"/>
<g transform="translate(42.4,369.9) scale(1.0)"><line x1="0" y1="0" x2="0.00" y2="-19.30" stroke="#17206e" stroke-width="2.6"/><line x1="0" y1="0" x2="15.09" y2="-12.03" stroke="#17206e" stroke-width="2.6"/><line x1="0" y1="0" x2="18.82" y2="4.29" stroke="#17206e" stroke-width="2.6"/><line x1="0" y1="0" x2="8.37" y2="17.39" stroke="#17206e" stroke-width="2.6"/><line x1="0" y1="0" x2="-8.37" y2="17.39" stroke="#17206e" stroke-width="2.6"/><line x1="0" y1="0" x2="-18.82" y2="4.29" stroke="#17206e" stroke-width="2.6"/><line x1="0" y1="0" x2="-15.09" y2="-12.03" stroke="#17206e" stroke-width="2.6"/><circle cx="0.00" cy="-19.30" r="2.45" fill="url(#gBall)" stroke="#2b7f96" stroke-width="0.8"/><circle cx="15.09" cy="-12.03" r="2.45" fill="url(#gBall)" stroke="#2b7f96" stroke-width="0.8"/><circle cx="18.82" cy="4.29" r="2.45" fill="url(#gBall)" stroke="#2b7f96" stroke-width="0.8"/><circle cx="8.37" cy="17.39" r="2.45" fill="url(#gBall)" stroke="#2b7f96" stroke-width="0.8"/><circle cx="-8.37" cy="17.39" r="2.45" fill="url(#gBall)" stroke="#2b7f96" stroke-width="0.8"/><circle cx="-18.82" cy="4.29" r="2.45" fill="url(#gBall)" stroke="#2b7f96" stroke-width="0.8"/><circle cx="-15.09" cy="-12.03" r="2.45" fill="url(#gBall)" stroke="#2b7f96" stroke-width="0.8"/><circle r="11.3" fill="#66bb4e" stroke="#2d4a2a" stroke-width="0.5"/><polygon points="9.30,0.00 4.65,8.05 -4.65,8.05 -9.30,0.00 -4.65,-8.05 4.65,-8.05" fill="url(#gV)" stroke="#1a1f6a" stroke-width="1.2" stroke-linejoin="round"/><circle cx="-3.4" cy="-6.3" r="0.85" fill="#c8985a"/><circle cx="1.3" cy="-6.3" r="0.85" fill="#c8985a"/><circle cx="-1.7" cy="-4.4" r="0.85" fill="#c8985a"/><circle cx="4.7" cy="-4.3" r="0.85" fill="#c8985a"/><circle cx="-4.4" cy="5.2" r="0.85" fill="#c8985a"/><circle cx="0.4" cy="6.6" r="0.85" fill="#c8985a"/><circle cx="4.5" cy="5.2" r="0.85" fill="#c8985a"/><rect x="-3.1" y="-2.2" width="10.4" height="2.0" fill="#f6dfa2" stroke="#3a3050" stroke-width="0.45"/><rect x="-3.1" y="1.1" width="10.4" height="2.0" fill="#f6dfa2" stroke="#3a3050" stroke-width="0.45"/><rect x="-7.1" y="-1.6" width="2.6" height="1.1" fill="#5a9a9a"/><rect x="-7.1" y="1.5" width="2.6" height="1.1" fill="#b0eaf0"/></g>
<path d="M85.30,367.50 C84.94,368.92 84.99,370.27 85.40,371.50 C85.83,372.78 86.78,373.98 87.90,375.00 C89.23,376.20 91.18,377.22 93.10,378.00 C95.21,378.86 97.68,379.43 100.10,379.80 C102.63,380.19 105.30,380.19 108.00,380.20 C110.85,380.21 113.88,380.02 116.80,379.80 C119.71,379.58 122.98,379.45 125.50,378.90 C127.51,378.46 129.45,378.08 130.80,377.10 C131.99,376.23 133.02,374.94 133.40,373.60 C133.80,372.19 133.62,370.31 133.00,368.80 C132.30,367.08 130.60,365.41 129.00,364.00 C127.28,362.48 125.02,360.89 122.90,360.10 C120.94,359.37 118.85,359.35 116.80,359.20 C114.75,359.05 112.46,359.48 110.60,359.20 C109.02,358.97 107.87,358.34 106.30,357.90 C104.43,357.38 102.17,356.38 100.10,356.30 C98.07,356.22 95.86,356.58 94.00,357.40 C92.08,358.25 90.24,359.76 88.80,361.40 C87.31,363.10 85.78,365.62 85.30,367.50 Z" fill="url(#gL3)" stroke="#6a3a62" stroke-width="0.7"/>
<path d="M181.3,372.2 L189.4,354.4 L197.5,372.2 Z" fill="url(#gT)" stroke="#2a2a2a" stroke-width="0.6" stroke-linejoin="round"/><path d="M181.3,372.2 L189.4,390.1 L197.5,372.2 Z" fill="url(#gM)" stroke="#2a2a2a" stroke-width="0.6" stroke-linejoin="round"/>
<line x1="193.5" y1="361.4" x2="209.3" y2="361.4" stroke="#b0b0b0" stroke-width="1.2" style="mix-blend-mode:multiply"/>
<line x1="193.5" y1="382.6" x2="209.3" y2="382.6" stroke="#b0b0b0" stroke-width="1.2" style="mix-blend-mode:multiply"/>
<text x="212.2" y="359.4" font-size="11.15" font-weight="400" fill="#2a2a2a" stroke="#2a2a2a" stroke-width="0.22" text-anchor="start" letter-spacing="0">Extracellular/lumenal</text>
<text x="212.2" y="371.5" font-size="11.15" font-weight="400" fill="#2a2a2a" stroke="#2a2a2a" stroke-width="0.22" text-anchor="start" letter-spacing="0">domain</text>
<text x="212.2" y="387.8" font-size="11.4" font-weight="400" fill="#2a2a2a" stroke="#2a2a2a" stroke-width="0.22" text-anchor="start" letter-spacing="0">Cytosolic domain</text>
<text x="26.4" y="409.9" font-size="11.3" font-weight="400" fill="#2a2a2a" stroke="#2a2a2a" stroke-width="0.22" text-anchor="start" letter-spacing="0">Virion</text>
<text x="80.9" y="409.9" font-size="11.4" font-weight="400" fill="#2a2a2a" stroke="#2a2a2a" stroke-width="0.22" text-anchor="start" letter-spacing="0">Cytosolic</text>
<text x="80.5" y="422.2" font-size="11.4" font-weight="400" fill="#2a2a2a" stroke="#2a2a2a" stroke-width="0.22" text-anchor="start" letter-spacing="0">lipid droplet</text>
<text x="159.1" y="409.6" font-size="11.2" font-weight="400" fill="#2a2a2a" stroke="#2a2a2a" stroke-width="0.22" text-anchor="start" letter-spacing="0">Transmembrane</text>
<text x="159.1" y="422.5" font-size="11.2" font-weight="400" fill="#2a2a2a" stroke="#2a2a2a" stroke-width="0.22" text-anchor="start" letter-spacing="0">protein</text>
<text x="508.3" y="469.4" font-size="11.4" font-weight="700" fill="#111" stroke="#111" stroke-width="0.15">Nature Reviews | <tspan fill="#6b4fa0" stroke="#6b4fa0">Immunology</tspan></text>
</svg>
</body></html>
